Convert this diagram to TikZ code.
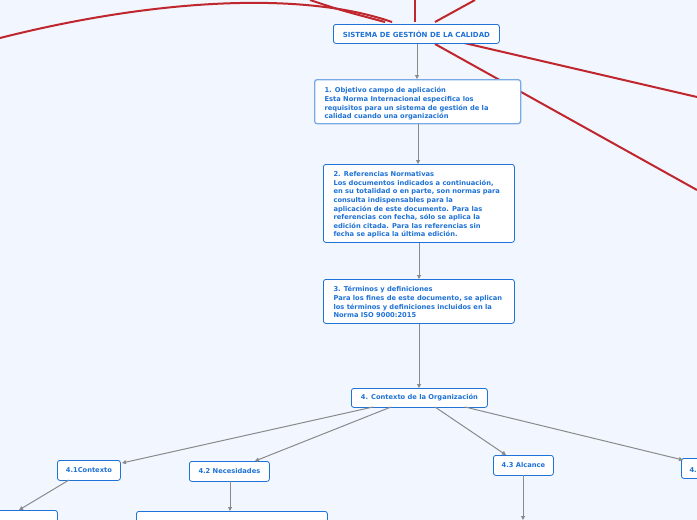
\documentclass[tikz,border=0pt]{standalone}
\usepackage{fontspec}
\setmainfont{DejaVu Sans}
\usetikzlibrary{arrows.meta}
\definecolor{bl}{HTML}{1F72D6}
\definecolor{rd}{HTML}{C0262D}
\definecolor{gr}{HTML}{8A8A8A}
\definecolor{bg}{HTML}{F2F6FE}
\begin{document}
\begin{tikzpicture}[x=1pt,y=-1pt,
 box/.style={draw=bl,line width=0.8pt,rounded corners=2.5pt,fill=white,inner sep=0pt},
 txt/.style={font=\bfseries\fontsize{6.7}{8.6}\selectfont,text=bl,align=left,anchor=north west},
 arr/.style={draw=gr,line width=1pt,-{Triangle[length=4pt,width=4pt]}},
 red/.style={draw=rd,line width=2pt}]
\clip (0,0) rectangle (697,520);
\fill[bg] (0,0) rectangle (697,520);
\draw[red] (0,38) .. controls (150,0) and (300,-10) .. (392,22);
\draw[red] (310,0) .. controls (340,10) .. (385,22);
\draw[red] (415,0) -- (415,22);
\draw[red] (475,0) -- (435,22);
\draw[red] (460,42) -- (697,97);
\draw[red] (435,44) -- (697,190);
\node[box,minimum width=166,minimum height=19,anchor=north west] (r) at (333,24) {};
\node[txt,anchor=center,font=\bfseries\fontsize{7}{8}\selectfont] at (r) {SISTEMA DE GESTIÓN DE LA CALIDAD};
\node[box,draw=bl!60,line width=1.3pt,minimum width=206,minimum height=44,anchor=north west] (b1) at (314,79) {};
\node[txt] at (321,84) {1. Objetivo campo de aplicación\\Esta Norma Internacional especifica los\\requisitos para un sistema de gestión de la\\calidad cuando una organización};
\node[box,minimum width=191,minimum height=78,anchor=north west] (b2) at (323,164) {};
\node[txt] at (330,168) {2. Referencias Normativas\\Los documentos indicados a continuación,\\en su totalidad o en parte, son normas para\\consulta indispensables para la\\aplicación de este documento. Para las\\referencias con fecha, sólo se aplica la\\edición citada. Para las referencias sin\\fecha se aplica la última edición.};
\node[box,minimum width=191,minimum height=44,anchor=north west] (b3) at (323,279) {};
\node[txt] at (330,283) {3. Términos y definiciones\\Para los fines de este documento, se aplican\\los términos y definiciones incluidos en la\\Norma ISO 9000:2015};
\node[box,minimum width=136,minimum height=19,anchor=north west] (b4) at (351,388) {};
\node[txt,anchor=center] at (b4) {4. Contexto de la Organización};
\node[box,minimum width=63,minimum height=20,anchor=north west] (c1) at (57,460) {};
\node[txt,anchor=center] at (c1) {4.1Contexto};
\node[box,minimum width=80,minimum height=20,anchor=north west] (c2) at (189,461) {};
\node[txt,anchor=center] at (c2) {4.2 Necesidades};
\node[box,minimum width=60,minimum height=20,anchor=north west] (c3) at (493,455) {};
\node[txt,anchor=center] at (c3) {4.3 Alcance};
\node[box,minimum width=40,minimum height=20,anchor=north west] (c4) at (681,458) {};
\node[txt] at (686,464) {4.};
\node[box,minimum width=70,minimum height=20,anchor=north west] (d1) at (-13,510) {};
\node[box,minimum width=191,minimum height=30,anchor=north west] (d2) at (136,511) {};
\coordinate (d3) at (523,520);
\draw[arr] (r.south -| 417,0) -- (b1.north -| 417,0);
\draw[arr] (b1.south -| 418,0) -- (b2.north -| 418,0);
\draw[arr] (b2.south -| 419,0) -- (b3.north -| 419,0);
\draw[arr] (b3.south -| 419,0) -- (b4.north -| 419,0);
\draw[arr] (373,407) -- (122,463);
\draw[arr] (391,407) -- (255,461);
\draw[arr] (435,407) -- (506,455);
\draw[arr] (465,407) -- (683,460);
\draw[arr] (69,480) -- (19,510);
\draw[arr] (230,481) -- (230,511);
\draw[arr] (523,475) -- (d3);
\end{tikzpicture}
\end{document}
